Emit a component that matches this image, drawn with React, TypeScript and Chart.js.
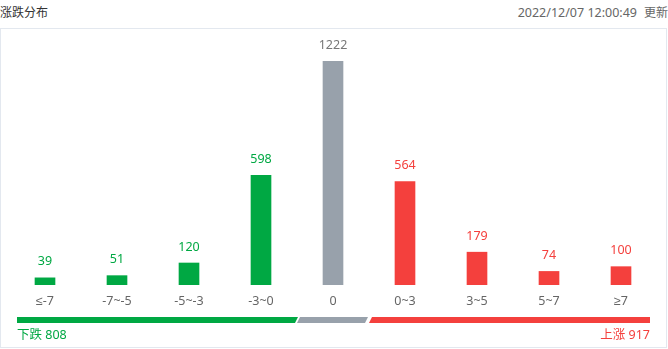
import React, { useEffect, useRef } from "react";
import { Chart, registerables } from "chart.js";

Chart.register(...registerables);

const categories = ["≤-7", "-7~-5", "-5~-3", "-3~0", "0", "0~3", "3~5", "5~7", "≥7"];
const counts = [39, 51, 120, 598, 1222, 564, 179, 74, 100];
const downCount = 808;
const upCount = 917;
const title = "涨跌分布";
const updateTime = "2022/12/07 12:00:49";
const updateWord = "更新";

const GREEN = "#00a843";
const GRAY = "#98a1ab";
const RED = "#f4403d";
const FONT = '"Noto Sans", "Liberation Sans", "Noto Sans CJK SC", sans-serif';

const colorFor = (i: number) => (i < 4 ? GREEN : i === 4 ? GRAY : RED);
const labelColorFor = (i: number) => (i < 4 ? GREEN : i === 4 ? "#777" : RED);

const valueLabels = {
  id: "valueLabels",
  afterDatasetsDraw(chart: any) {
    const ctx = chart.ctx;
    const meta = chart.getDatasetMeta(0);
    ctx.save();
    ctx.font = `12.5px ${FONT}`;
    ctx.textAlign = "center";
    ctx.textBaseline = "middle";
    meta.data.forEach((bar: any, i: number) => {
      ctx.fillStyle = labelColorFor(i);
      ctx.fillText(String(counts[i]), bar.x, bar.y - 16);
    });
    ctx.restore();
  },
};

export default function App() {
  const ref = useRef<HTMLCanvasElement>(null);
  useEffect(() => {
    document.body.style.margin = "0";
    const chart = new Chart(ref.current!, {
      type: "bar",
      data: {
        labels: categories,
        datasets: [
          {
            data: counts,
            backgroundColor: counts.map((_, i) => colorFor(i)),
            barThickness: 20,
          },
        ],
      },
      options: {
        animation: false,
        responsive: false,
        maintainAspectRatio: false,
        layout: { padding: { left: 9, right: 11, top: 61, bottom: 0 } },
        plugins: { legend: { display: false }, tooltip: { enabled: false } },
        scales: {
          x: {
            grid: { display: false, drawTicks: false },
            border: { display: false },
            ticks: { color: "#666", font: { size: 12.5, family: FONT }, padding: 9 },
            afterFit: (s: any) => {
              s.height = 25;
            },
          },
          y: { display: false, min: 0, max: 1222 },
        },
      },
      plugins: [valueLabels],
    });
    return () => chart.destroy();
  }, []);

  return (
    <div style={{ position: "relative", width: 668, height: 349, fontFamily: FONT, background: "#fff" }}>
      <div style={{ position: "absolute", left: 0, top: 4, fontSize: 12, color: "#333", lineHeight: "18px" }}>{title}</div>
      <div style={{ position: "absolute", right: 0, top: 4, fontSize: 12.5, color: "#666", lineHeight: "18px", whiteSpace: "pre" }}>
        {updateTime}
        <span style={{ marginLeft: 7, fontSize: 12 }}>{updateWord}</span>
      </div>
      <div
        style={{
          position: "absolute",
          left: 0,
          top: 28,
          width: 667,
          height: 320,
          boxSizing: "border-box",
          border: "1px solid #e3e8ef",
        }}
      />
      <canvas ref={ref} width={668} height={310} style={{ position: "absolute", left: 0, top: 0, width: 668, height: 310 }} />
      <svg width={668} height={349} style={{ position: "absolute", left: 0, top: 0 }}>
        <polygon points="17,317 298,317 295,323 17,323" fill={GREEN} />
        <polygon points="300,317 368,317 365,323 297,323" fill={GRAY} />
        <polygon points="372,317 650,317 650,323 369,323" fill={RED} />
      </svg>
      <div style={{ position: "absolute", left: 17, top: 326, fontSize: 12.5, color: GREEN, lineHeight: "18px" }}>
        下跌 {downCount}
      </div>
      <div style={{ position: "absolute", right: 18, top: 326, fontSize: 12.5, color: RED, lineHeight: "18px" }}>
        上涨 {upCount}
      </div>
    </div>
  );
}
